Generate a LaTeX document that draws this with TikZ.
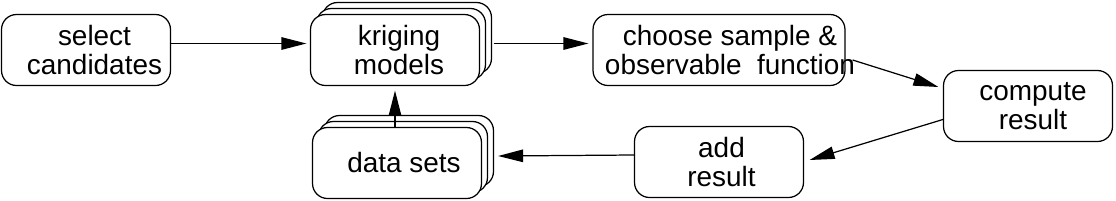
\documentclass[tikz,border=0pt]{standalone}
\usepackage{fontspec}
\setmainfont{Liberation Sans}
\usetikzlibrary{arrows.meta,shadows}

\tikzset{
    proc/.style={draw,fill=white,rounded corners=0.3cm,line width=0.7pt,
        minimum width=3.38cm,minimum height=1.42cm,inner sep=0pt},
    stack/.style={proc,double copy shadow={shadow xshift=0.12cm,shadow yshift=0.12cm}},
    txt/.style={align=center,inner sep=0pt,font=\fontsize{15.9}{16.1}\selectfont},
}

\begin{document}
\begin{tikzpicture}[x=0.02cm,y=-0.02cm,>={Triangle[length=0.5cm,width=0.25cm]},line width=0.7pt]
    \useasboundingbox (0,0) rectangle (1116,200);
    % upper row
    \node[proc,label={[txt,xshift=0.17cm]center:{select\\candidates}}] (select) at (86,50) {};
    \node[stack,label={[txt,xshift=0.08cm]center:{kriging\\models}}] (kriging) at (395,50) {};
    \node[proc,minimum width=5.04cm,label={[txt,xshift=0.22cm]center:{choose sample \&\\observable\ \ function}}] (choose) at (719,50) {};
    \node[proc,label={[txt,xshift=0.1cm]center:{compute\\result}}] (compute) at (1028,106) {};
    % lower row
    \node[proc,label={[txt,xshift=0.05cm]center:{add\\result}}] (add) at (719,162) {};
    \node[stack,label={[txt,xshift=0.14cm]center:{data sets}}] (data) at (397,163) {};
    % arrows
    \draw[->] ([yshift=0.13cm]select.east) -- ([shift={(-0.07cm,0.13cm)}]kriging.west);
    \draw[->] ([shift={(0.27cm,0.13cm)}]kriging.east) -- ([shift={(-0.08cm,0.13cm)}]choose.west);
    \draw[->] ([shift={(0.14cm,-0.2cm)}]choose.east) -- ([shift={(-0.09cm,0.38cm)}]compute.west);
    \draw[->] ([yshift=-0.27cm]compute.west) -- ([shift={(0.11cm,0.04cm)}]add.east);
    \draw[->] ([yshift=0.14cm]add.west) -- ([shift={(0.32cm,0.14cm)}]data.east);
    \draw[->] (data.north -| kriging.south) -- ([yshift=-0.09cm]kriging.south);
\end{tikzpicture}
\end{document}
